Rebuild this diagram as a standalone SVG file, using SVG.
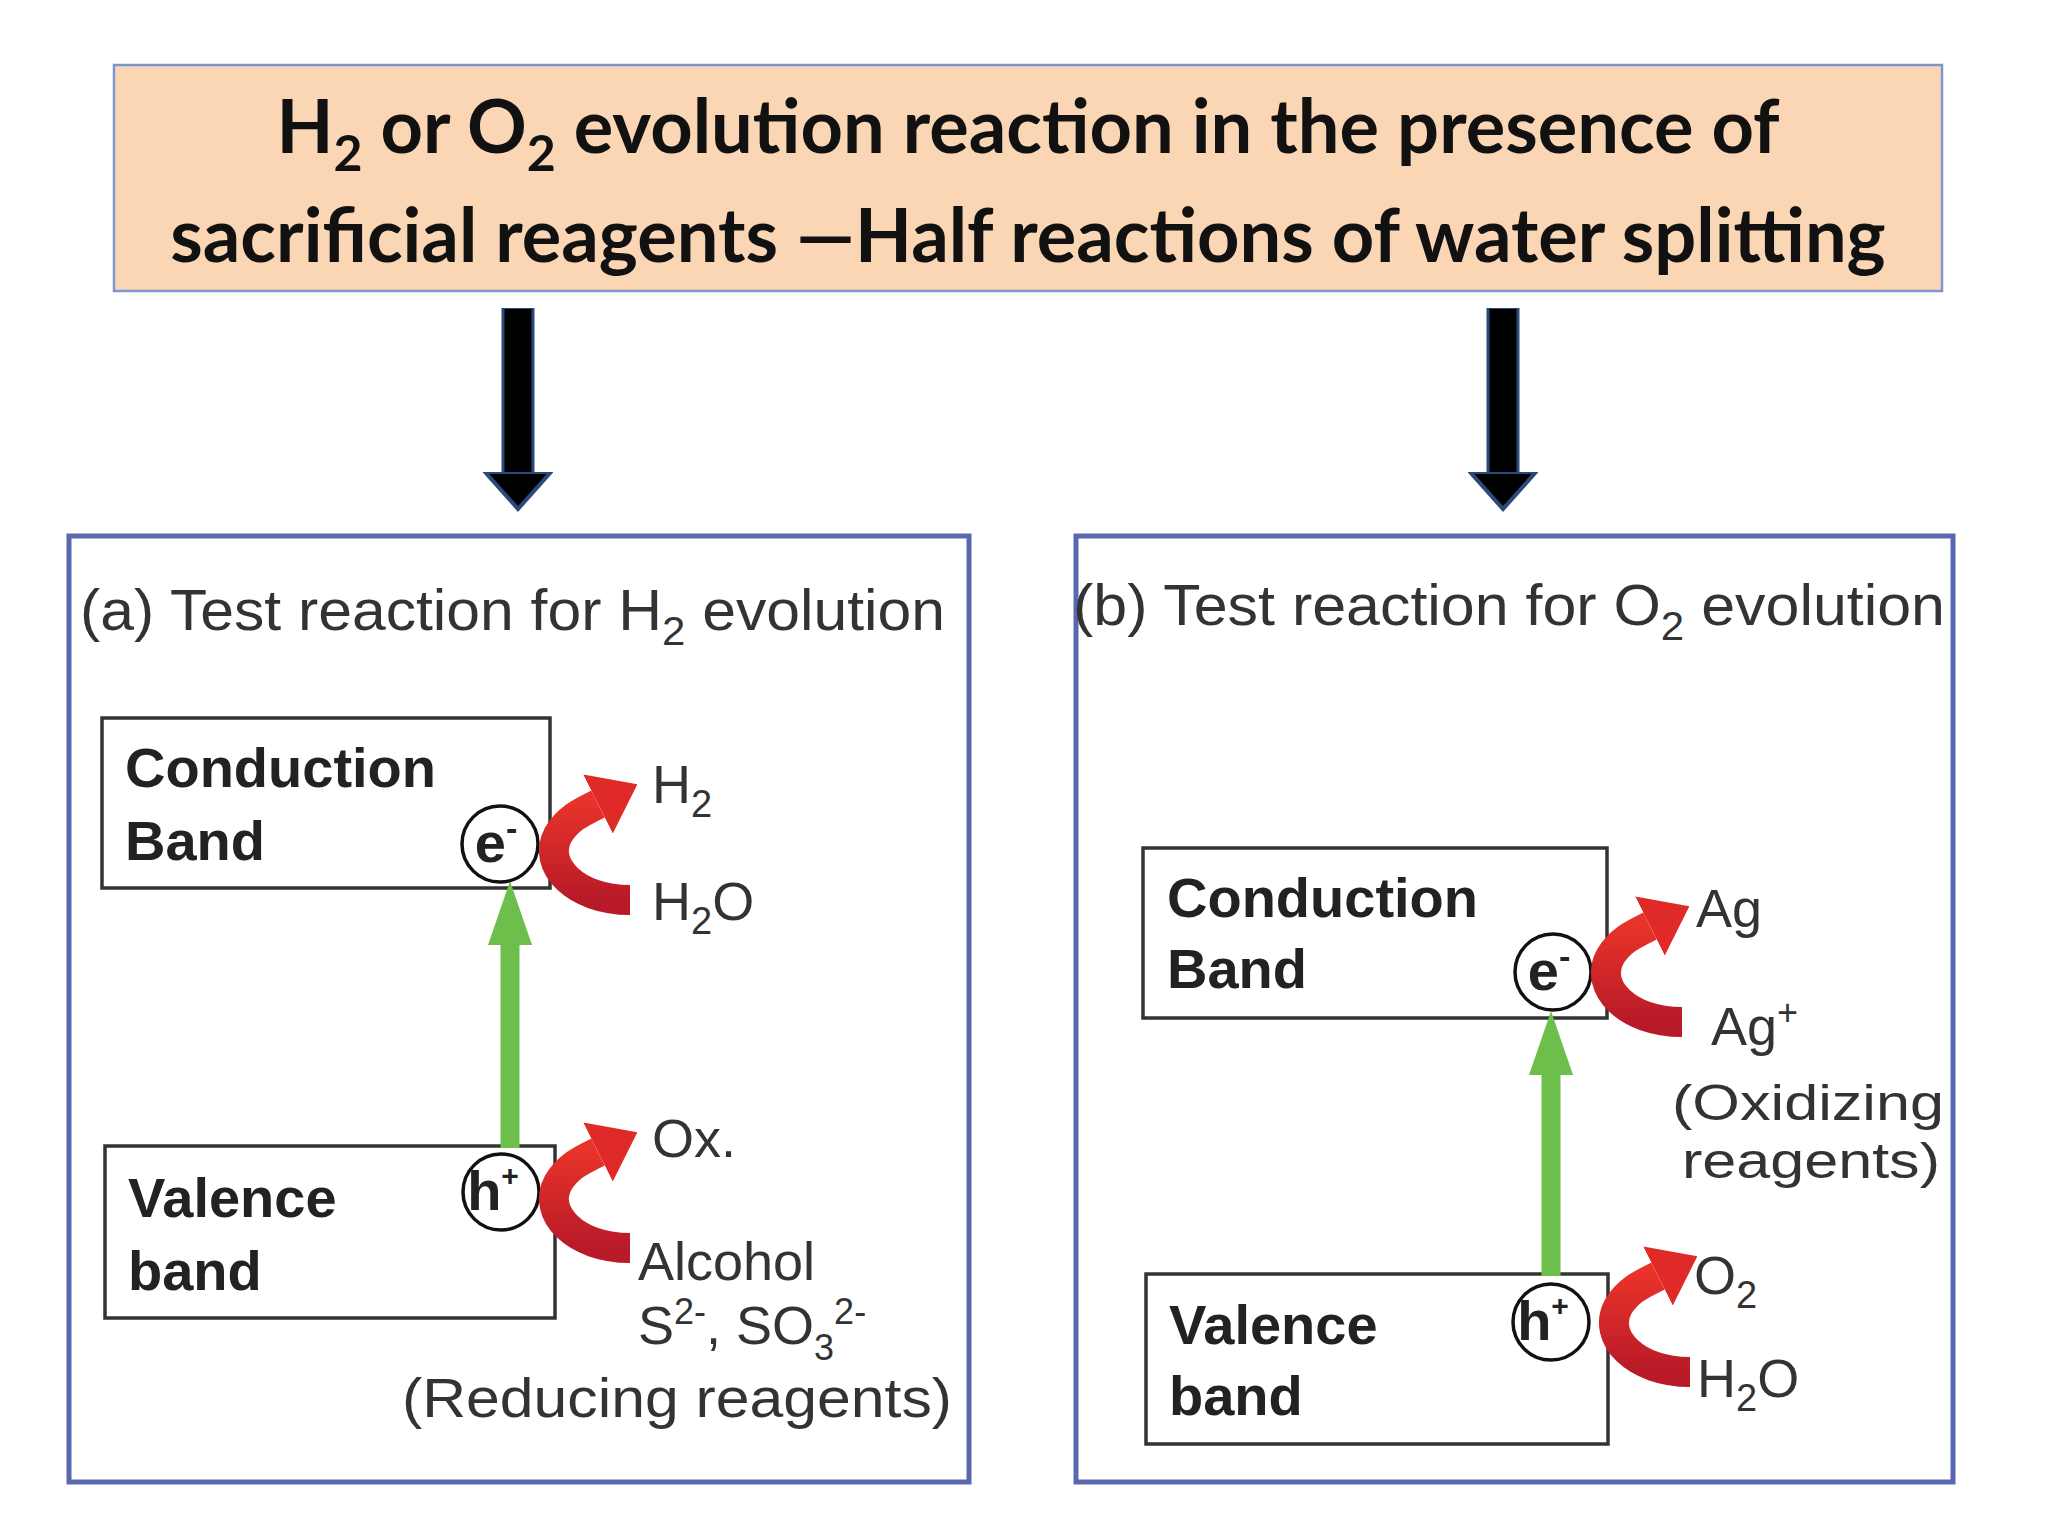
<svg xmlns="http://www.w3.org/2000/svg" xmlns:xlink="http://www.w3.org/1999/xlink" width="2048" height="1536" viewBox="0 0 2048 1536">
<style>
.t{font-family:"Liberation Sans",Arial,sans-serif;fill:#333}
.b{font-family:"Liberation Sans",Arial,sans-serif;font-weight:bold;fill:#222;font-size:56px}
.band{fill:#fff;stroke:#333;stroke-width:3.5}
.panel{fill:#fff;stroke:#5a68b0;stroke-width:5}
.circ{fill:#fff;stroke:#111;stroke-width:3.5}
.title{font-family:Lato,"Liberation Sans",sans-serif;font-weight:bold;font-size:74px;fill:#111}
</style>
<defs>
<linearGradient id="rg" x1="0" y1="0" x2="0" y2="1"><stop offset="0" stop-color="#e8322a"/><stop offset="1" stop-color="#b81a28"/></linearGradient>
<marker id="rh" markerUnits="userSpaceOnUse" markerWidth="44" markerHeight="66" viewBox="0 0 44 66" refX="0" refY="33" orient="auto"><path d="M0,0 L44,33 L0,66 Z" fill="#e02a28"/></marker>
<marker id="gh" markerUnits="userSpaceOnUse" markerWidth="64" markerHeight="44" viewBox="0 0 64 44" refX="0" refY="22" orient="auto"><path d="M0,0 L64,22 L0,44 Z" fill="#6cbf4a"/></marker>
<marker id="dh" markerUnits="userSpaceOnUse" markerWidth="40" markerHeight="70" viewBox="0 0 40 70" refX="0" refY="35" orient="auto"><path d="M0,2 L37,35 L0,68 Z" fill="#000" stroke="#2a4a7a" stroke-width="4"/></marker>
<g id="redarrow"><path d="M0,0 C-55,0 -88,-35 -72,-65 C-62,-82 -48,-88 -32,-96" fill="none" stroke="url(#rg)" stroke-width="30" marker-end="url(#rh)"/></g>
</defs>
<rect width="2048" height="1536" fill="#fff"/>
<g id="titlebox">
<rect x="114" y="65" width="1828" height="226" fill="#fad6b4" stroke="#7b96d0" stroke-width="2.5"/>
<text class="title" x="1028" y="153" text-anchor="middle">H<tspan font-size="50" dy="18">2</tspan><tspan dy="-18"> or O</tspan><tspan font-size="50" dy="18">2</tspan><tspan dy="-18"> evolution reaction in the presence of</tspan></text>
<text class="title" x="1028" y="262" text-anchor="middle">sacrificial reagents —Half reactions of water splitting</text>
</g>
<g id="connectors">
<path d="M518,308 L518,472" stroke="#2a4a7a" stroke-width="33" fill="none"/>
<path d="M518,309 L518,472" stroke="#000" stroke-width="27" fill="none" marker-end="url(#dh)"/>
<path d="M1503,308 L1503,472" stroke="#2a4a7a" stroke-width="33" fill="none"/>
<path d="M1503,309 L1503,472" stroke="#000" stroke-width="27" fill="none" marker-end="url(#dh)"/>
</g>
<g id="panelA">
<rect class="panel" x="69" y="536" width="900" height="946"/>
<text class="t" x="80" y="630" font-size="58" textLength="865" lengthAdjust="spacingAndGlyphs">(a) Test reaction for H<tspan font-size="40" dy="15">2</tspan><tspan dy="-15"> evolution</tspan></text>
<rect class="band" x="102" y="718" width="448" height="170"/>
<text class="b" x="125" y="787">Conduction</text>
<text class="b" x="125" y="860">Band</text>
<rect class="band" x="105" y="1146" width="450" height="172"/>
<text class="b" x="128" y="1217">Valence</text>
<text class="b" x="128" y="1290">band</text>
<path d="M510,1148 L510,945" stroke="#6cbf4a" stroke-width="19" marker-end="url(#gh)"/>
<circle class="circ" cx="500" cy="844" r="38"/>
<text class="b" x="496" y="862" font-size="50" text-anchor="middle">e<tspan font-size="34" dy="-22">-</tspan></text>
<circle class="circ" cx="501" cy="1192" r="38"/>
<text class="b" x="493" y="1210" font-size="52" text-anchor="middle">h<tspan font-size="30" dy="-24">+</tspan></text>
<use xlink:href="#redarrow" x="630" y="900"/>
<use xlink:href="#redarrow" x="630" y="1248"/>
<text class="t" x="652" y="803" font-size="54">H<tspan font-size="38" dy="14">2</tspan></text>
<text class="t" x="652" y="920" font-size="54">H<tspan font-size="38" dy="14">2</tspan><tspan dy="-14">O</tspan></text>
<text class="t" x="652" y="1157" font-size="54">Ox.</text>
<text class="t" x="638" y="1280" font-size="54">Alcohol</text>
<text class="t" x="638" y="1344" font-size="54">S<tspan font-size="36" dy="-20">2-</tspan><tspan dy="20">,  SO</tspan><tspan font-size="36" dy="16">3</tspan><tspan font-size="36" dy="-36">2-</tspan></text>
<text class="t" x="402" y="1417" font-size="56" textLength="550" lengthAdjust="spacingAndGlyphs">(Reducing reagents)</text>
</g>
<g id="panelB">
<rect class="panel" x="1076" y="536" width="877" height="946"/>
<text class="t" x="1073" y="625" font-size="58" textLength="872" lengthAdjust="spacingAndGlyphs">(b) Test reaction for O<tspan font-size="40" dy="15">2</tspan><tspan dy="-15"> evolution</tspan></text>
<rect class="band" x="1143" y="848" width="464" height="170"/>
<text class="b" x="1167" y="917">Conduction</text>
<text class="b" x="1167" y="988">Band</text>
<rect class="band" x="1146" y="1274" width="462" height="170"/>
<text class="b" x="1169" y="1344">Valence</text>
<text class="b" x="1169" y="1415">band</text>
<path d="M1551,1276 L1551,1075" stroke="#6cbf4a" stroke-width="19" marker-end="url(#gh)"/>
<circle class="circ" cx="1553" cy="972" r="38"/>
<text class="b" x="1549" y="990" font-size="50" text-anchor="middle">e<tspan font-size="34" dy="-22">-</tspan></text>
<circle class="circ" cx="1551" cy="1322" r="38"/>
<text class="b" x="1543" y="1340" font-size="52" text-anchor="middle">h<tspan font-size="30" dy="-24">+</tspan></text>
<use xlink:href="#redarrow" x="1682" y="1022"/>
<use xlink:href="#redarrow" x="1690" y="1372"/>
<text class="t" x="1696" y="927" font-size="54">Ag</text>
<text class="t" x="1711" y="1045" font-size="54">Ag<tspan font-size="36" dy="-20">+</tspan></text>
<text class="t" x="1672" y="1120" font-size="50" textLength="272" lengthAdjust="spacingAndGlyphs">(Oxidizing</text>
<text class="t" x="1682" y="1178" font-size="50" textLength="258" lengthAdjust="spacingAndGlyphs">reagents)</text>
<text class="t" x="1694" y="1294" font-size="54">O<tspan font-size="38" dy="14">2</tspan></text>
<text class="t" x="1697" y="1397" font-size="54">H<tspan font-size="38" dy="14">2</tspan><tspan dy="-14">O</tspan></text>
</g>
</svg>
